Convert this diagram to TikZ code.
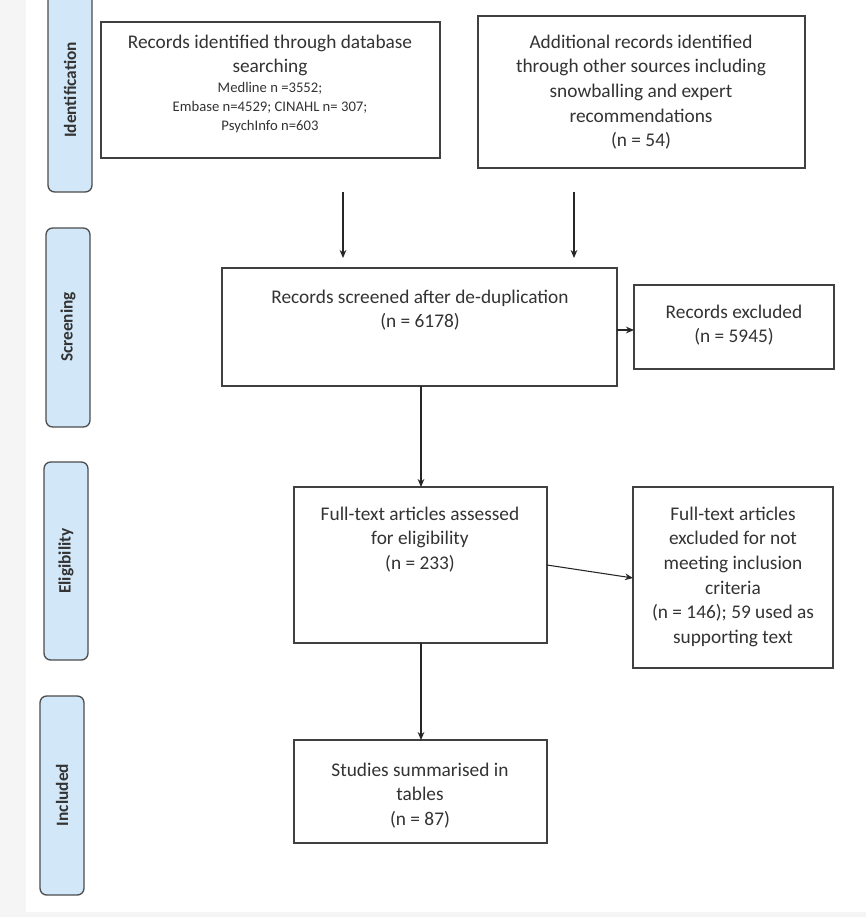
\documentclass[tikz,border=0pt]{standalone}
\usepackage{fontspec}
\setmainfont{Carlito}
\usetikzlibrary{arrows.meta}
\definecolor{phasefill}{HTML}{D2E8F8}
\begin{document}
\begin{tikzpicture}[x=0.75pt,y=-0.75pt,
  box/.style={draw=black!75,line width=0.8pt,fill=white},
  phase/.style={draw=black!70,line width=1pt,fill=phasefill,rounded corners=5pt},
  txt/.style={align=center,font=\fontsize{14.5}{18.5}\selectfont,text=black!80},
  sm/.style={},
  ptxt/.style={rotate=90,font=\bfseries\fontsize{13}{15}\selectfont,text=black!80},
  arr/.style={-{Stealth[length=6pt,width=5pt]},line width=0.8pt,black!85}]
\useasboundingbox (0,0) rectangle (866,917);
\fill[black!4] (0,0) rectangle (866,917);
\fill[white] (26,0) rectangle (866,912);
% phases
\draw[phase] (48,-10) rectangle (92,192);
\node[ptxt] (p1) at (70,90) {Identification};
\draw[phase] (46,228) rectangle (90,427);
\node[ptxt] (p2) at (68,327) {Screening};
\draw[phase] (44,462) rectangle (88,660);
\node[ptxt] (p3) at (66,561) {Eligibility};
\draw[phase] (40,696) rectangle (84,895);
\node[ptxt] (p4) at (62,795) {Included};
% boxes
\draw[box] (101,22) rectangle (440,158);
\node[txt,anchor=north] (a) at (270,30) {Records identified through database\\searching\\[-4pt]{\fontsize{11}{14}\selectfont Medline n =3552;}\\[-4pt]{\fontsize{11}{14}\selectfont Embase n=4529; CINAHL n= 307;}\\[-4pt]{\fontsize{11}{14}\selectfont PsychInfo n=603}};
\draw[box] (478,16) rectangle (805,168);
\node[txt,anchor=north] (b) at (641,30) {Additional records identified\\through other sources including\\snowballing and expert\\recommendations\\(n = 54)};
\draw[box] (222,268) rectangle (617,386);
\node[txt,anchor=north] (c) at (420,285) {Records screened after de-duplication\\(n = 6178)};
\draw[box] (634,285) rectangle (834,369);
\node[txt,anchor=north] (d) at (734,300) {Records excluded\\(n = 5945)};
\draw[box] (294,487) rectangle (547,643);
\node[txt,anchor=north] (e) at (420,502) {Full-text articles assessed\\for eligibility\\(n = 233)};
\draw[box] (633,487) rectangle (833,668);
\node[txt,anchor=north] (f) at (733,502) {Full-text articles\\excluded for not\\meeting inclusion\\criteria\\(n = 146); 59 used as\\supporting text};
\draw[box] (294,740) rectangle (547,843);
\node[txt,anchor=north] (g) at (420,758) {Studies summarised in\\tables\\(n = 87)};
% arrows
\coordinate (a1) at (343,192); \coordinate (a2) at (343,258);
\coordinate (b1) at (574,192); \coordinate (b2) at (574,258);
\draw[arr] (a1) -- (a2);
\draw[arr] (b1) -- (b2);
\coordinate (c1) at (617,330); \coordinate (d1) at (634,330);
\draw[arr] (c1) -- (d1);
\coordinate (c2) at (421,386); \coordinate (e1) at (421,487);
\draw[arr] (c2) -- (e1);
\coordinate (e2) at (547,565); \coordinate (f1) at (633,578);
\draw[arr] (e2) -- (f1);
\coordinate (e3) at (421,643); \coordinate (g1) at (421,740);
\draw[arr] (e3) -- (g1);
\end{tikzpicture}
\end{document}
